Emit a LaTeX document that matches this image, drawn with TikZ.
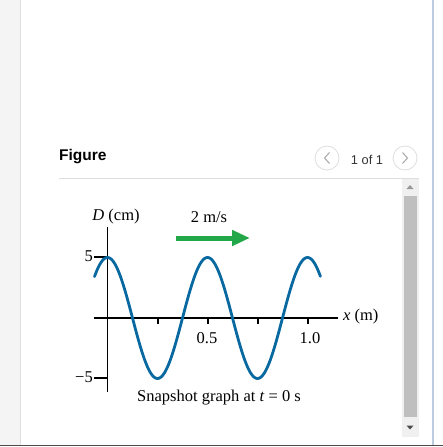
\documentclass[tikz,border=0pt]{standalone}
\usepackage{fontspec}
\setmainfont{Liberation Serif}
\newfontfamily\uifont{Liberation Sans}
\usepackage{tikz}
\usetikzlibrary{arrows.meta,positioning}
\definecolor{wavecol}{RGB}{8,104,160}
\definecolor{velgreen}{RGB}{34,168,72}
\definecolor{panelgray}{RGB}{244,244,244}
\definecolor{uiborder}{RGB}{222,222,222}
\definecolor{edgeblue}{RGB}{188,204,224}

\begin{document}
\begin{tikzpicture}[
    x=1pt, y=-1pt,
    every node/.style={inner sep=0pt, font=\fontsize{16.5}{20}\selectfont},
    axis/.style={line width=1.1pt},
    waveline/.style={draw=wavecol, line width=2.8pt, line cap=round},
    velarrow/.style={draw=velgreen, line width=5pt, -{Triangle[length=18pt,width=15pt]}},
    navbtn/.style={circle, draw=uiborder, line width=0.8pt, minimum size=24pt},
    chevron/.style={draw=black!35, line width=1pt}
]
    \useasboundingbox (0,0) rectangle (443,447);
    % page frame
    \fill[panelgray] (0,0) rectangle (20,445);
    \draw[uiborder, line width=1pt] (20.5,0) -- (20.5,445);
    \draw[edgeblue, line width=1.6pt] (433,0) -- (433,445);
    \draw[black!70, line width=1.6pt] (0,445.5) -- (443,445.5);

    % header
    \node[anchor=west, font=\uifont\bfseries\fontsize{15.5}{18}\selectfont] (title) at (59,157) {Figure};
    \node[font=\uifont\fontsize{12.8}{15}\selectfont, text=black!80] (pager) at (367,160) {1 of 1};
    \node[navbtn] (prevbtn) at (327,158) {};
    \node[navbtn] (nextbtn) at (405,158) {};
    \draw[chevron] ([shift={(2.5,-5.5)}]prevbtn.center) -- ++(-5,5.5) -- ++(5,5.5);
    \draw[chevron] ([shift={(-2.5,-5.5)}]nextbtn.center) -- ++(5,5.5) -- ++(-5,5.5);
    \draw[uiborder, line width=1pt] (59,178) -- (419,178);

    % scrollbar
    \fill[black!6] (402,179) rectangle (419,437);
    \fill[black!25] (404,196) rectangle (417,417);
    \fill[black!40] (410,185) -- (413.5,189) -- (406.5,189) -- cycle;
    \fill[black!70] (406.5,425.5) -- (413.5,425.5) -- (410,429.5) -- cycle;

    % graph
    \coordinate (O) at (107.5,318);
    \coordinate (ytop) at (107.5,227);
    \coordinate (ybot) at (107.5,392);
    \coordinate (xleft) at (94,318);
    \coordinate (xright) at (338,318);
    \draw[axis] (ybot) -- (ytop);
    \draw[axis] (xleft) -- (xright);
    \foreach \tx in {158,208,258,308}
        \draw[axis] (\tx,318) -- (\tx,324);
    \draw[axis] (94,257) -- (107.5,257);
    \draw[axis] (94,378) -- (107.5,378);

    \node[anchor=east] (yfive) at (93,256) {5};
    \node[anchor=east] (yminus) at (93,377) {−5};
    \node (xhalf) at (207,338) {0.5};
    \node (xone) at (310,338) {1.0};
    \node[anchor=west] (xlabel) at (343,317) {\textit{x} (m)};
    \node (ylabel) at (116,217) {\textit{D} (cm)};
    \node (speed) at (209,217) {2 m/s};
    \node (caption) at (219,398) {Snapshot graph at \textit{t} = 0 s};

    \coordinate (vstart) at (176,238);
    \coordinate (vend) at (250,238);
    \draw[velarrow] (vstart) -- (vend);

    \draw[waveline] plot[domain=-0.065:1.065, samples=200, smooth]
        ({107.5+200*\x},{318-60.5*cos(720*\x)});
\end{tikzpicture}
\end{document}
